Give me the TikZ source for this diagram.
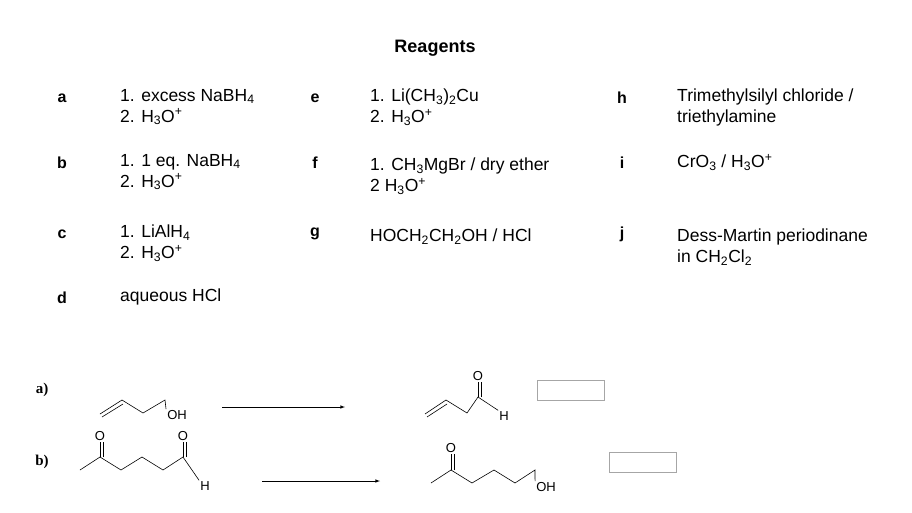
\documentclass[tikz,border=0pt]{standalone}
\usepackage{fontspec}
\setmainfont{Liberation Sans}
\newfontfamily\serifrm{Liberation Serif}
\usetikzlibrary{calc}
\newcommand{\sbs}[1]{\textsubscript{#1}}
\newcommand{\sps}[1]{\textsuperscript{#1}}
\begin{document}
\begin{tikzpicture}[x=1pt,y=-1pt,
 lbl/.style={font=\fontsize{16}{18}\selectfont\bfseries,anchor=center},
 rg/.style={font=\fontsize{17.5}{21}\selectfont,anchor=north west,align=left,inner sep=0pt},
 bond/.style={line width=0.6pt},
 atom/.style={font=\fontsize{13}{15}\selectfont,inner sep=1pt},
 arr/.style={line width=0.6pt,-latex},
 ans/.style={draw=gray!70,line width=0.8pt,minimum width=67pt,minimum height=20pt}]
\useasboundingbox (0,0) rectangle (912,512);
\node[font=\fontsize{18}{20}\selectfont\bfseries] (title) at (435,48) {Reagents};
\node[lbl] (la) at (62,98) {a};
\node[lbl] (lb) at (62,163) {b};
\node[lbl] (lc) at (62,234) {c};
\node[lbl] (ld) at (62,298) {d};
\node[lbl] (le) at (315,98) {e};
\node[lbl] (lf) at (315,163) {f};
\node[lbl] (lg) at (315,234) {g};
\node[lbl] (lh) at (622,98) {h};
\node[lbl] (li) at (622,163) {i};
\node[lbl] (lj) at (622,234) {j};
\node[rg] (ra) at (120,89) {1. excess NaBH\sbs{4}\\2. H\sbs{3}O\sps{+}};
\node[rg] (rb) at (120,154) {1. 1 eq. NaBH\sbs{4}\\2. H\sbs{3}O\sps{+}};
\node[rg] (rc) at (120,225) {1. LiAlH\sbs{4}\\2. H\sbs{3}O\sps{+}};
\node[rg] (rd) at (120,289) {aqueous HCl};
\node[rg] (re) at (370,89) {1. Li(CH\sbs{3})\sbs{2}Cu\\2. H\sbs{3}O\sps{+}};
\node[rg] (rf) at (370,158) {1. CH\sbs{3}MgBr / dry ether\\2 H\sbs{3}O\sps{+}};
\node[rg] (rg1) at (370,229) {HOCH\sbs{2}CH\sbs{2}OH / HCl};
\node[rg] (rh) at (677,89) {Trimethylsilyl chloride /\\triethylamine};
\node[rg] (ri) at (677,154) {CrO\sbs{3} / H\sbs{3}O\sps{+}};
\node[rg] (rj) at (677,229) {Dess-Martin periodinane\\in CH\sbs{2}Cl\sbs{2}};
% reaction labels
\node[font=\fontsize{15}{16}\selectfont\serifrm\bfseries] (pa) at (42,390) {a)};
\node[font=\fontsize{15}{16}\selectfont\serifrm\bfseries] (pb) at (42,462) {b)};
% molecule a
\coordinate (a1) at (100,414); \coordinate (a2) at (122,400);
\coordinate (a3) at (143,413); \coordinate (a4) at (165,400);
\node[atom] (aOH) at (177,415) {OH};
\draw[bond] (a1)--(a2)--(a3)--(a4)--(aOH.north west);
\draw[bond] ($(a1)+(2,3)$) -- ($(a2)+(1,4)$);
\coordinate (arA1) at (222,407); \coordinate (arA2) at (345,407);
\draw[arr] (arA1)--(arA2);
% product a
\coordinate (p1) at (425,414); \coordinate (p2) at (446,400);
\coordinate (p3) at (467,413); \coordinate (p4) at (478,397);
\node[atom] (pO) at (478,376) {O};
\node[atom] (pH) at (504,416) {H};
\draw[bond] (p1)--(p2)--(p3)--(p4)--(pH.north west);
\draw[bond] ($(p1)+(2,3)$) -- ($(p2)+(1,4)$);
\draw[bond] (p4)--(pO.south);
\draw[bond] ($(p4)+(3,0)$)--($(pO.south)+(3,0)$);
\node[ans] (boxA) at (571,390) {};
% molecule b
\coordinate (b0) at (80,470); \coordinate (b1) at (100,457);
\coordinate (b2) at (121,470); \coordinate (b3) at (142,457);
\coordinate (b4) at (163,470); \coordinate (b5) at (183,457);
\node[atom] (bO1) at (100,436) {O};
\node[atom] (bO2) at (183,436) {O};
\node[atom] (bH) at (205,486) {H};
\draw[bond] (b0)--(b1)--(b2)--(b3)--(b4)--(b5)--(bH.north west);
\draw[bond] (b1)--(bO1.south); \draw[bond] ($(b1)+(3,0)$)--($(bO1.south)+(3,0)$);
\draw[bond] (b5)--(bO2.south); \draw[bond] ($(b5)+(3,0)$)--($(bO2.south)+(3,0)$);
\coordinate (arB1) at (262,481); \coordinate (arB2) at (380,481);
\draw[arr] (arB1)--(arB2);
% product b
\coordinate (q0) at (431,483); \coordinate (q1) at (451,470);
\coordinate (q2) at (472,483); \coordinate (q3) at (494,470);
\coordinate (q4) at (515,483); \coordinate (q5) at (535,470);
\node[atom] (qO) at (451,448) {O};
\node[atom] (qOH) at (546,487) {OH};
\draw[bond] (q0)--(q1)--(q2)--(q3)--(q4)--(q5)--(qOH.north west);
\draw[bond] (q1)--(qO.south); \draw[bond] ($(q1)+(3,0)$)--($(qO.south)+(3,0)$);
\node[ans] (boxB) at (643,462) {};
\end{tikzpicture}
\end{document}
